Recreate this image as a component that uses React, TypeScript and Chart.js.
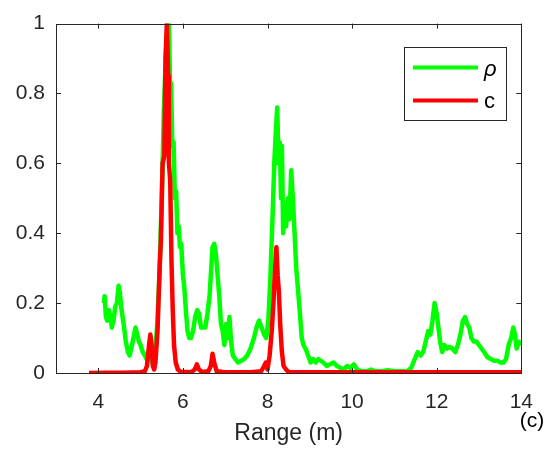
import React, { useEffect, useRef } from "react";
import { Chart, registerables } from "chart.js";

Chart.register(...registerables);

const rhoX = [
  4.13, 4.15, 4.18, 4.21, 4.25, 4.29, 4.32, 4.36, 4.4, 4.44, 4.48, 4.51, 4.55, 4.6, 4.65, 4.7, 4.74, 4.78,
  4.83, 4.88, 4.92, 4.96, 5.0, 5.05, 5.1, 5.14, 5.18, 5.22, 5.27, 5.31, 5.35, 5.4, 5.45, 5.5, 5.55, 5.6,
  5.64, 5.67, 5.7, 5.72, 5.75, 5.78, 5.81, 5.84, 5.87, 5.9, 5.93, 5.96, 6.0, 6.03, 6.07, 6.11, 6.15, 6.19,
  6.24, 6.29, 6.34, 6.38, 6.43, 6.48, 6.53, 6.58, 6.63, 6.67, 6.7, 6.74, 6.78, 6.82, 6.86, 6.9, 6.94, 6.98,
  7.02, 7.06, 7.1, 7.14, 7.18, 7.24, 7.3, 7.38, 7.45, 7.52, 7.6, 7.68, 7.74, 7.8, 7.86, 7.92, 7.97, 8.02,
  8.07, 8.12, 8.16, 8.2, 8.23, 8.26, 8.29, 8.32, 8.34, 8.37, 8.4, 8.44, 8.48, 8.52, 8.56, 8.6, 8.64, 8.68,
  8.72, 8.76, 8.81, 8.85, 8.9, 8.96, 9.02, 9.08, 9.14, 9.2, 9.26, 9.32, 9.4, 9.48, 9.56, 9.64, 9.72, 9.8,
  9.88, 9.96, 10.04, 10.12, 10.22, 10.35, 10.45, 10.55, 10.7, 10.85, 11.0, 11.15, 11.3, 11.4, 11.48, 11.55,
  11.62, 11.68, 11.74, 11.8, 11.85, 11.9, 11.95, 12.0, 12.04, 12.08, 12.13, 12.18, 12.24, 12.3, 12.37,
  12.44, 12.5, 12.56, 12.62, 12.67, 12.72, 12.77, 12.82, 12.88, 12.94, 13.0, 13.06, 13.12, 13.2, 13.28,
  13.36, 13.44, 13.5, 13.58, 13.64, 13.7, 13.76, 13.81, 13.85, 13.89, 13.94, 14.0,
];
const rhoY = [
  0.2, 0.22, 0.16, 0.15, 0.18, 0.16, 0.13, 0.15, 0.19, 0.2, 0.25, 0.23, 0.18, 0.14, 0.09, 0.06, 0.05, 0.07,
  0.1, 0.13, 0.11, 0.09, 0.08, 0.06, 0.05, 0.04, 0.06, 0.05, 0.03, 0.02, 0.07, 0.15, 0.3, 0.5, 0.75, 0.92,
  1.0, 1.0, 0.8, 0.83, 0.65, 0.66, 0.5, 0.52, 0.4, 0.42, 0.36, 0.37, 0.28, 0.25, 0.18, 0.12, 0.1, 0.1,
  0.12, 0.16, 0.18, 0.17, 0.13, 0.13, 0.13, 0.17, 0.22, 0.3, 0.36, 0.37, 0.34, 0.28, 0.22, 0.14, 0.12, 0.08,
  0.14, 0.1, 0.16, 0.09, 0.05, 0.04, 0.03, 0.035, 0.04, 0.05, 0.07, 0.1, 0.13, 0.15, 0.13, 0.11, 0.1, 0.15,
  0.28, 0.45, 0.6, 0.7, 0.76, 0.6, 0.66, 0.5, 0.65, 0.4, 0.48, 0.42, 0.5, 0.44, 0.58, 0.5, 0.4, 0.3,
  0.24, 0.18, 0.1, 0.08, 0.07, 0.05, 0.03, 0.04, 0.03, 0.04, 0.035, 0.03, 0.02, 0.025, 0.03, 0.02, 0.015, 0.01,
  0.02, 0.015, 0.025, 0.01, 0.005, 0.005, 0.01, 0.005, 0.005, 0.008, 0.005, 0.005, 0.005, 0.015, 0.04, 0.06,
  0.05, 0.06, 0.09, 0.12, 0.11, 0.15, 0.2, 0.17, 0.13, 0.09, 0.06, 0.08, 0.07, 0.075, 0.07,
  0.06, 0.08, 0.11, 0.15, 0.16, 0.14, 0.13, 0.1, 0.09, 0.09, 0.08, 0.07, 0.06, 0.045, 0.04,
  0.035, 0.035, 0.03, 0.03, 0.04, 0.08, 0.1, 0.13, 0.11, 0.07, 0.09, 0.08,
];

const cX = [
  3.78, 4.2, 4.6, 5.0, 5.1, 5.15, 5.2, 5.23, 5.26, 5.29, 5.32, 5.35, 5.4, 5.45, 5.48, 5.52, 5.56, 5.59,
  5.62, 5.65, 5.67, 5.7, 5.73, 5.76, 5.79, 5.83, 5.88, 5.95, 6.2, 6.28, 6.33, 6.38, 6.45, 6.6, 6.66, 6.7,
  6.74, 6.8, 7.0, 7.6, 7.85, 7.92, 7.96, 8.0, 8.05, 8.1, 8.14, 8.18, 8.21, 8.24, 8.27, 8.3, 8.34, 8.38,
  8.44, 8.5, 9.0, 14.0,
];
const cY = [
  0, 0.001, 0.001, 0.002, 0.005, 0.02, 0.08, 0.11, 0.08, 0.02, 0.01, 0.03, 0.12, 0.3, 0.38, 0.6, 0.62, 0.9,
  1.0, 0.85, 0.6, 0.55, 0.32, 0.18, 0.08, 0.03, 0.01, 0.003, 0.003, 0.01, 0.025, 0.01, 0.003, 0.005, 0.02, 0.055,
  0.03, 0.005, 0.002, 0.002, 0.005, 0.02, 0.03, 0.01, 0.05, 0.12, 0.2, 0.3, 0.36, 0.28, 0.23, 0.14, 0.06, 0.02,
  0.01, 0.003, 0.002, 0.002,
];

const xTicks = [4, 6, 8, 10, 12, 14];
const yTicks = [0, 0.2, 0.4, 0.6, 0.8, 1];
const seriesLabels = ["\u03c1", "c"];
const seriesColors = ["#00ff00", "#ff0000"];
const xTitle = "Range (m)";
const panelTag = "(c)";

const AXIS = "#262626";
const FONT = "'Liberation Sans', Arial, Helvetica, sans-serif";

const matlabPlugin = {
  id: "matlabAxes",
  afterDraw(chart: any) {
    const { ctx, chartArea } = chart;
    const { left, right, top, bottom } = chartArea;
    const xs = chart.scales.x;
    const ys = chart.scales.y;
    ctx.save();
    ctx.strokeStyle = AXIS;
    ctx.lineWidth = 1;
    ctx.strokeRect(Math.round(left) + 0.5, Math.round(top) + 0.5, Math.round(right - left), Math.round(bottom - top));
    const tl = 5;
    ctx.beginPath();
    xTicks.forEach((v) => {
      const px = Math.round(xs.getPixelForValue(v)) + 0.5;
      ctx.moveTo(px, bottom);
      ctx.lineTo(px, bottom - tl);
      ctx.moveTo(px, top);
      ctx.lineTo(px, top + tl);
    });
    yTicks.forEach((v) => {
      const py = Math.round(ys.getPixelForValue(v)) + 0.5;
      ctx.moveTo(left, py);
      ctx.lineTo(left + tl, py);
      ctx.moveTo(right, py);
      ctx.lineTo(right - tl, py);
    });
    ctx.stroke();

    // legend
    const lx0 = 404.5, ly0 = 47.5, lw = 102, lh = 73;
    ctx.fillStyle = "#ffffff";
    ctx.fillRect(lx0, ly0, lw, lh);
    ctx.strokeStyle = AXIS;
    ctx.lineWidth = 1;
    ctx.strokeRect(lx0, ly0, lw, lh);
    const rows = [67.5, 100.5];
    chart.data.datasets.forEach((ds: any, i: number) => {
      ctx.strokeStyle = ds.borderColor;
      ctx.lineWidth = 4;
      ctx.beginPath();
      ctx.moveTo(413, rows[i]);
      ctx.lineTo(478, rows[i]);
      ctx.stroke();
      ctx.fillStyle = "#000000";
      ctx.font = (i === 0 ? "italic " : "") + "22px " + FONT;
      ctx.textAlign = "left";
      ctx.textBaseline = "middle";
      ctx.fillText(ds.label, 484, rows[i] + (i === 0 ? 2 : 1));
    });

    // panel tag
    ctx.fillStyle = "#000000";
    ctx.font = "21px " + FONT;
    ctx.textAlign = "center";
    ctx.textBaseline = "middle";
    ctx.fillText(panelTag, 532, 421);
    ctx.restore();
  },
};

export default function App() {
  const ref = useRef<HTMLCanvasElement | null>(null);
  useEffect(() => {
    if (!ref.current) return;
    const chart = new Chart(ref.current, {
      type: "line",
      data: {
        datasets: [
          {
            label: seriesLabels[0],
            data: rhoX.map((x, i) => ({ x, y: rhoY[i] })),
            borderColor: seriesColors[0],
            backgroundColor: seriesColors[0],
            borderWidth: 4.5,
            borderJoinStyle: "round",
            pointRadius: 0,
            tension: 0,
            order: 1,
          },
          {
            label: seriesLabels[1],
            data: cX.map((x, i) => ({ x, y: cY[i] })),
            borderColor: seriesColors[1],
            backgroundColor: seriesColors[1],
            borderWidth: 4.5,
            borderJoinStyle: "round",
            pointRadius: 0,
            tension: 0,
            order: 0,
          },
        ],
      },
      options: {
        animation: false,
        responsive: false,
        devicePixelRatio: 1,
        layout: { padding: { top: 19, right: 17, left: 0, bottom: 0 } },
        plugins: { legend: { display: false }, tooltip: { enabled: false }, title: { display: false } },
        scales: {
          x: {
            type: "linear",
            min: 3,
            max: 14,
            grid: { display: false, drawTicks: false },
            border: { display: false },
            afterBuildTicks: (s: any) => {
              s.ticks = xTicks.map((v) => ({ value: v }));
            },
            afterFit: (s: any) => {
              s.height = 79;
            },
            ticks: {
              autoSkip: false,
              maxRotation: 0,
              padding: 17,
              color: AXIS,
              font: { family: FONT, size: 21 },
              callback: (v: any) => String(v),
            },
            title: {
              display: true,
              text: xTitle,
              color: AXIS,
              font: { family: FONT, size: 23 },
              padding: { top: 0, bottom: 5 },
            },
          },
          y: {
            type: "linear",
            min: 0,
            max: 1,
            grid: { display: false, drawTicks: false },
            border: { display: false },
            afterBuildTicks: (s: any) => {
              s.ticks = yTicks.map((v) => ({ value: v }));
            },
            afterFit: (s: any) => {
              s.width = 56;
            },
            ticks: {
              autoSkip: false,
              padding: 11,
              color: AXIS,
              font: { family: FONT, size: 21 },
              callback: (v: any) => String(Math.round(v * 10) / 10),
            },
          },
        },
      },
      plugins: [matlabPlugin],
    });
    return () => chart.destroy();
  }, []);
  return (
    <div style={{ position: "absolute", left: 0, top: 0, width: 550, height: 452, background: "#fff" }}>
      <canvas ref={ref} width={550} height={452} style={{ display: "block" }} />
    </div>
  );
}
